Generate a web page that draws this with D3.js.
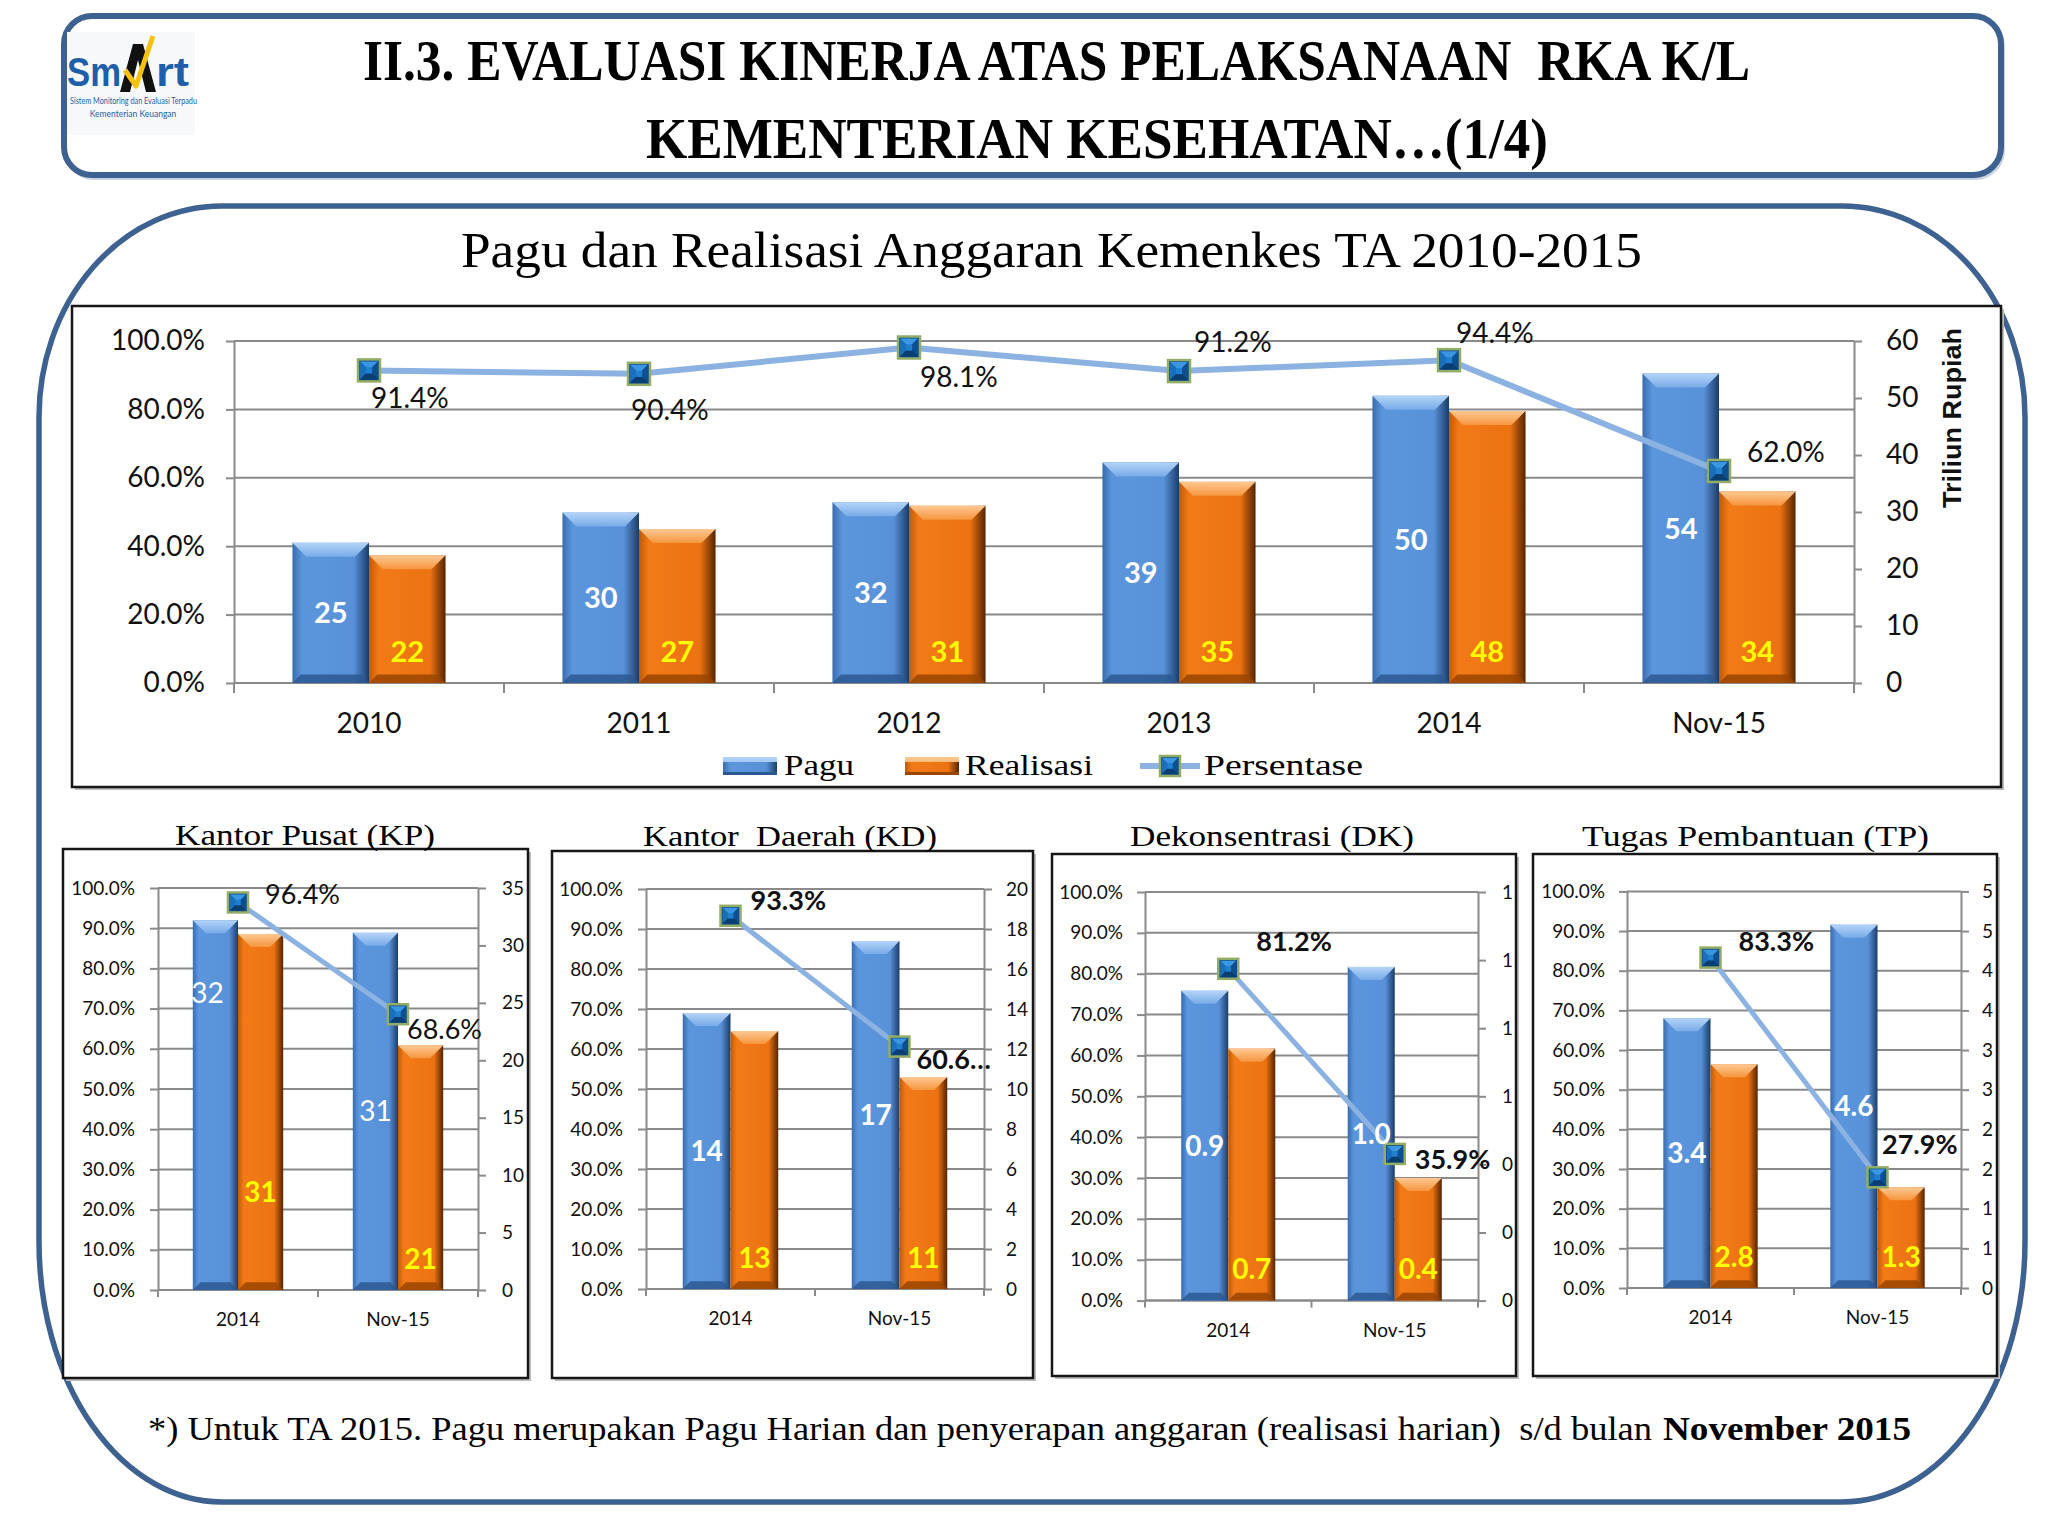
<!DOCTYPE html>
<html><head><meta charset="utf-8">
<script src="https://cdn.jsdelivr.net/npm/d3@7"></script>
<style>body{margin:0;background:#fff}svg{display:block}</style>
</head><body>
<svg id="c" width="2048" height="1536"></svg>
<script>
// ---------------- DATA ----------------
const topCategories = ["2010", "2011", "2012", "2013", "2014", "Nov-15"];
const topPagu = [24.6, 29.9, 31.7, 38.7, 50.4, 54.3];
const topRealisasi = [22.4, 27.0, 31.1, 35.3, 47.7, 33.6];
const topPersentase = [91.4, 90.4, 98.1, 91.2, 94.4, 62.0];
const topPctTicks = [0, 20, 40, 60, 80, 100];
const topValueTicks = [0, 10, 20, 30, 40, 50, 60];

const subCategories = ["2014", "Nov-15"];
const subPctTicks = [0, 10, 20, 30, 40, 50, 60, 70, 80, 90, 100];

const kpPagu = [32.2, 31.1];
const kpRealisasi = [31.0, 21.3];
const kpPersentase = [96.4, 68.6];
const kpValueTicks = [0, 5, 10, 15, 20, 25, 30, 35];

const kdPagu = [13.8, 17.4];
const kdRealisasi = [12.9, 10.6];
const kdPersentase = [93.3, 60.6];
const kdValueTicks = [0, 2, 4, 6, 8, 10, 12, 14, 16, 18, 20];

const dkPagu = [0.91, 0.98];
const dkRealisasi = [0.74, 0.36];
const dkPersentase = [81.2, 35.9];
const dkValueTicks = [0, 0.2, 0.4, 0.6, 0.8, 1.0, 1.2];

const tpPagu = [3.40, 4.58];
const tpRealisasi = [2.82, 1.27];
const tpPersentase = [83.3, 27.9];
const tpValueTicks = [0, 0.5, 1, 1.5, 2, 2.5, 3, 3.5, 4, 4.5, 5];

const seriesNames = ["Pagu", "Realisasi", "Persentase"];
const subTitles = ["Kantor Pusat (KP)", "Kantor  Daerah (KD)", "Dekonsentrasi (DK)", "Tugas Pembantuan (TP)"];

// ---------------- STYLE ----------------
const SANS = "Lato, 'Noto Sans', sans-serif";
const SERIF = "'Liberation Serif', 'DejaVu Serif', serif";
const GRID = "#8a8a8a";
const NAVY = "#3d6190";
const LINE = "#8cb2e2";

const svg = d3.select("#c");
const defs = svg.append("defs");
function lin(id, x1, y1, x2, y2, stops) {
  const g = defs.append("linearGradient").attr("id", id)
    .attr("x1", x1).attr("y1", y1).attr("x2", x2).attr("y2", y2);
  stops.forEach(([o, c]) => g.append("stop").attr("offset", o).attr("stop-color", c));
}
lin("blueBody", 0, 0, 1, 0, [[0, "#3a6cae"], [0.13, "#5b96dd"], [0.8, "#5891d8"], [1, "#1b3d6b"]]);
lin("blueTop", 0, 0, 0, 1, [[0, "#b4d4f8"], [1, "#78abe8"]]);
lin("orangeBody", 0, 0, 1, 0, [[0, "#bf5a06"], [0.13, "#f27b18"], [0.8, "#ec7212"], [1, "#552500"]]);
lin("orangeTop", 0, 0, 0, 1, [[0, "#ffc892"], [1, "#f5963e"]]);
const bottomCol = { blue: "#2c5892", orange: "#9a4500" };

svg.append("rect").attr("width", 2048).attr("height", 1536).attr("fill", "#fff");

// ---------------- FRAME ----------------
svg.append("path")
  .attr("d", "M 222,206 H 1842 A 183 211 0 0 1 2025 417 V 1242 A 183 260 0 0 1 1842 1502 H 222 A 183 260 0 0 1 39 1242 V 417 A 183 211 0 0 1 222 206 Z")
  .attr("fill", "#fff").attr("stroke", NAVY).attr("stroke-width", 5.5);

svg.append("rect").attr("x", 66).attr("y", 19).attr("width", 1937).attr("height", 159).attr("rx", 28)
  .attr("fill", "none").attr("stroke", "#c9d3e0").attr("stroke-width", 4);
svg.append("rect").attr("x", 64).attr("y", 16).attr("width", 1937).attr("height", 159).attr("rx", 28)
  .attr("fill", "#fff").attr("stroke", NAVY).attr("stroke-width", 6);

// logo
const logo = svg.append("g");
logo.append("rect").attr("x", 67).attr("y", 32).attr("width", 128).attr("height", 103).attr("fill", "#f7f8fa");
logo.append("text").attr("x", 67).attr("y", 86).attr("font-family", "'Liberation Sans', sans-serif")
  .attr("font-weight", "bold").attr("font-size", 40).attr("fill", "#1f5ea8")
  .attr("textLength", 54).attr("lengthAdjust", "spacingAndGlyphs").text("Sm");
logo.append("path").attr("d", "M120,92 L133,44 L143,44 L156,92 L146,92 L138,60 L130,92 Z").attr("fill", "#111");
logo.append("polyline").attr("points", "125,70 136,86 153,36").attr("fill", "none")
  .attr("stroke", "#f4c20d").attr("stroke-width", 5).attr("stroke-linejoin", "round");
logo.append("text").attr("x", 156).attr("y", 86).attr("font-family", "'Liberation Sans', sans-serif")
  .attr("font-weight", "bold").attr("font-size", 40).attr("fill", "#1f5ea8")
  .attr("textLength", 33).attr("lengthAdjust", "spacingAndGlyphs").text("rt");
logo.append("text").attr("x", 70).attr("y", 104).attr("font-family", SANS).attr("font-size", 8.5)
  .attr("fill", "#1f5ea8").attr("textLength", 127).attr("lengthAdjust", "spacingAndGlyphs")
  .text("Sistem Monitoring dan Evaluasi Terpadu");
logo.append("text").attr("x", 133).attr("y", 117).attr("text-anchor", "middle").attr("font-family", SANS)
  .attr("font-size", 8.5).attr("fill", "#1f5ea8").text("Kementerian Keuangan");

function fitText(g, str, x, y, width, size, opts = {}) {
  return g.append("text").attr("x", x).attr("y", y)
    .attr("font-family", opts.family || SERIF).attr("font-size", size)
    .attr("font-weight", opts.weight || "normal").attr("fill", opts.fill || "#000")
    .style("white-space", "pre")
    .attr("textLength", width).attr("lengthAdjust", "spacingAndGlyphs").text(str);
}
fitText(svg, "II.3. EVALUASI KINERJA ATAS PELAKSANAAN  RKA K/L", 363, 80, 1387, 56, { weight: "bold" });
fitText(svg, "KEMENTERIAN KESEHATAN…(1/4)", 646, 158, 902, 56, { weight: "bold" });
fitText(svg, "Pagu dan Realisasi Anggaran Kemenkes TA 2010-2015", 461, 267, 1181, 50);
fitText(svg, "*) Untuk TA 2015. Pagu merupakan Pagu Harian dan penyerapan anggaran (realisasi harian)  s/d bulan", 148, 1440, 1504, 33);
fitText(svg, "November 2015", 1663, 1440, 248, 33, { weight: "bold" });

// ---------------- HELPERS ----------------
function bar(g, x0, y0, w, h, c, bv) {
  const grp = g.append("g");
  grp.append("rect").attr("x", x0).attr("y", y0).attr("width", w).attr("height", h).attr("fill", `url(#${c}Body)`);
  const b = Math.min(bv, w / 3, h / 2);
  grp.append("polygon").attr("points", [[x0, y0], [x0 + w, y0], [x0 + w - b, y0 + b], [x0 + b, y0 + b]].join(" "))
    .attr("fill", `url(#${c}Top)`);
  const bb = b * 0.6;
  grp.append("polygon").attr("points", [[x0, y0 + h], [x0 + w, y0 + h], [x0 + w - bb, y0 + h - bb], [x0 + bb, y0 + h - bb]].join(" "))
    .attr("fill", bottomCol[c]).attr("opacity", 0.85);
}
function marker(g, cx, cy, s) {
  const h = s / 2, k = h - 2;
  const m = g.append("g").attr("transform", `translate(${cx},${cy})`);
  m.append("rect").attr("x", -h).attr("y", -h).attr("width", s).attr("height", s)
    .attr("fill", "#0c4d8c").attr("stroke", "#93ad66").attr("stroke-width", 2.5);
  const tris = [
    [[[-k, -k], [k, -k], [0, 0]], "#3b97e2"],
    [[[-k, -k], [-k, k], [0, 0]], "#1a6fbd"],
    [[[k, -k], [k, k], [0, 0]], "#0d4f91"],
    [[[-k, k], [k, k], [0, 0]], "#0a3d70"]];
  tris.forEach(([p, c]) => m.append("polygon").attr("points", p.join(" ")).attr("fill", c));
  m.append("rect").attr("x", -k * 0.35).attr("y", -k * 0.35).attr("width", k * 0.7).attr("height", k * 0.7).attr("fill", "#1f80d0");
}
function styleAxis(sel, fs) {
  sel.attr("font-family", SANS).attr("font-size", fs);
  sel.selectAll("text").attr("fill", "#111");
  sel.selectAll("line").attr("stroke", GRID).attr("stroke-width", 2);
  sel.select(".domain").attr("stroke", GRID).attr("stroke-width", 2);
}

function drawChart(o) {
  const g = svg.append("g");
  // box
  g.append("rect").attr("x", o.box[0] + 3).attr("y", o.box[1] + 3).attr("width", o.box[2] - o.box[0]).attr("height", o.box[3] - o.box[1]).attr("fill", "#bdbdbd");
  g.append("rect").attr("x", o.box[0]).attr("y", o.box[1]).attr("width", o.box[2] - o.box[0]).attr("height", o.box[3] - o.box[1])
    .attr("fill", "#fff").attr("stroke", "#161616").attr("stroke-width", 2.5);
  if (o.title) fitText(g, o.title, o.title_x, o.title_y, o.title_w, 30);

  const { l, r, t, b } = o.plot;
  const x = d3.scaleBand().domain(o.cats).range([l, r]);
  const bw = x.bandwidth();
  const xs = d3.scaleBand().domain(["Pagu", "Realisasi"]).range([bw * (1 - o.group) / 2, bw * (1 + o.group) / 2]);
  const yL = d3.scaleLinear().domain([0, 100]).range([b, t]);
  const yR = d3.scaleLinear().domain([0, d3.max(o.valueTicks)]).range([b, t]);

  g.append("g").selectAll("line").data(o.pctTicks).join("line")
    .attr("x1", l).attr("x2", r).attr("y1", d => yL(d)).attr("y2", d => yL(d))
    .attr("stroke", GRID).attr("stroke-width", 2);

  const aL = g.append("g").attr("transform", `translate(${l},0)`)
    .call(d3.axisLeft(yL).tickValues(o.pctTicks).tickFormat(d => d.toFixed(1) + "%")
      .tickSize(8).tickSizeOuter(0).tickPadding(o.leftPad));
  styleAxis(aL, o.tickFs);
  const aR = g.append("g").attr("transform", `translate(${r},0)`)
    .call(d3.axisRight(yR).tickValues(o.valueTicks).tickFormat(o.valueFmt)
      .tickSize(8).tickSizeOuter(0).tickPadding(o.rightPad));
  styleAxis(aR, o.tickFs);

  // bottom axis: boundary ticks and category labels
  g.append("line").attr("x1", l).attr("x2", r).attr("y1", b).attr("y2", b).attr("stroke", GRID).attr("stroke-width", 2);
  g.append("g").selectAll("line").data(d3.range(o.cats.length + 1)).join("line")
    .attr("x1", i => l + i * bw).attr("x2", i => l + i * bw).attr("y1", b).attr("y2", b + o.xTick)
    .attr("stroke", GRID).attr("stroke-width", 2);
  const aB = g.append("g").attr("transform", `translate(0,${b})`)
    .call(d3.axisBottom(x).tickSize(0).tickPadding(o.bottomPad));
  aB.select(".domain").remove();
  styleAxis(aB, o.tickFs);

  // bars
  const series = [["Pagu", o.pagu, "blue"], ["Realisasi", o.real, "orange"]];
  series.forEach(([name, vals, col]) => {
    vals.forEach((v, i) => {
      const x0 = x(o.cats[i]) + xs(name);
      bar(g, x0, yR(v), xs.bandwidth(), b - yR(v), col, o.bevel);
    });
  });

  // line + markers
  const cx = i => x(o.cats[i]) + bw / 2;
  g.append("path").datum(o.pct)
    .attr("d", d3.line().x((d, i) => cx(i)).y(d => yL(d)))
    .attr("fill", "none").attr("stroke", LINE).attr("stroke-width", o.lineW).attr("stroke-linejoin", "round");
  o.pct.forEach((p, i) => marker(g, cx(i), yL(p), o.markerS));

  // bar value labels
  o.pagu.forEach((v, i) => {
    const lay = (o.paguLabelAt && o.paguLabelAt[i]) || null;
    const xc = x(o.cats[i]) + xs("Pagu") + xs.bandwidth() / 2 + (lay ? lay[1] : 0);
    const yc = lay ? yR(lay[0]) : yR(v / 2);
    g.append("text").attr("x", xc).attr("y", yc).attr("dy", "0.36em").attr("text-anchor", "middle")
      .attr("font-family", SANS).attr("font-size", o.barFs).attr("font-weight", o.paguWeight)
      .attr("fill", "#fff").text(o.valFmt(v));
  });
  o.real.forEach((v, i) => {
    const lay = (o.realLabelAt && o.realLabelAt[i]) || null;
    const xc = x(o.cats[i]) + xs("Realisasi") + xs.bandwidth() / 2;
    const yc = lay ? yR(lay) : b - 31.5;
    g.append("text").attr("x", xc).attr("y", yc).attr("dy", "0.36em").attr("text-anchor", "middle")
      .attr("font-family", SANS).attr("font-size", o.barFs).attr("font-weight", "bold")
      .attr("fill", "#ffff00").text(o.valFmt(v));
  });
  // percentage labels
  o.pct.forEach((p, i) => {
    const [dx, dy] = o.pctOffsets[i];
    const txt = (o.pctText && o.pctText[i]) || (p.toFixed(1) + "%");
    g.append("text").attr("x", cx(i) + dx).attr("y", yL(p) + dy)
      .attr("font-family", SANS).attr("font-size", o.pctFs).attr("font-weight", o.pctWeight)
      .attr("fill", "#111").text(txt);
  });
  return g;
}

// ---------------- TOP CHART ----------------
const topG = drawChart({
  box: [72, 306, 2001, 787],
  plot: { l: 234, r: 1854, t: 341, b: 683 },
  cats: topCategories, pagu: topPagu, real: topRealisasi, pct: topPersentase,
  pctTicks: topPctTicks, valueTicks: topValueTicks, valueFmt: d3.format(".0f"), valFmt: d3.format(".0f"),
  group: 0.567, tickFs: 28, leftPad: 21, rightPad: 24, bottomPad: 30, xTick: 10,
  bevel: 14, lineW: 6, markerS: 22, barFs: 29, paguWeight: "bold", pctFs: 28, pctWeight: "normal",
  pctOffsets: [[2, 38], [-8, 46], [11, 40], [15, -19], [7, -17], [28, -9]]
});
topG.append("text").attr("transform", "translate(1961,418) rotate(-90)").attr("text-anchor", "middle")
  .attr("font-family", "'Liberation Sans', sans-serif").attr("font-weight", "bold").attr("font-size", 26)
  .attr("fill", "#111").attr("textLength", 180).attr("lengthAdjust", "spacingAndGlyphs").text("Triliun Rupiah");

// legend
const leg = svg.append("g");
const legItems = [
  { name: seriesNames[0], type: "bar", col: "blue", sx: 723, tx: 784, tw: 70 },
  { name: seriesNames[1], type: "bar", col: "orange", sx: 905, tx: 965, tw: 128 },
  { name: seriesNames[2], type: "line", sx: 1140, tx: 1204, tw: 159 }];
legItems.forEach(it => {
  if (it.type === "bar") {
    leg.append("rect").attr("x", it.sx).attr("y", 757).attr("width", 54).attr("height", 18).attr("fill", `url(#${it.col}Top)`);
    leg.append("rect").attr("x", it.sx).attr("y", 762).attr("width", 54).attr("height", 13).attr("fill", `url(#${it.col}Body)`);
    leg.append("rect").attr("x", it.sx).attr("y", 772).attr("width", 54).attr("height", 3).attr("fill", bottomCol[it.col]);
  } else {
    leg.append("line").attr("x1", it.sx).attr("x2", it.sx + 60).attr("y1", 766).attr("y2", 766)
      .attr("stroke", LINE).attr("stroke-width", 6);
    marker(leg, it.sx + 30, 766, 20);
  }
  fitText(leg, it.name, it.tx, 775, it.tw, 30);
});

// ---------------- SMALL CHARTS ----------------
const small = {
  cats: subCategories, pctTicks: subPctTicks, group: 0.565, tickFs: 19, bottomPad: 22.5, xTick: 7,
  bevel: 13, lineW: 5, markerS: 20, barFs: 28, pctFs: 27
};
drawChart(Object.assign({}, small, {
  box: [63, 849, 528, 1378], plot: { l: 158, r: 478, t: 888, b: 1290 },
  title: subTitles[0], title_x: 175, title_y: 845, title_w: 260,
  pagu: kpPagu, real: kpRealisasi, pct: kpPersentase, valueTicks: kpValueTicks,
  valueFmt: d3.format(".0f"), valFmt: d3.format(".0f"), leftPad: 15, rightPad: 16,
  paguWeight: "normal", pctWeight: "normal",
  paguLabelAt: [[25.9, -8], null], realLabelAt: [8.5, null],
  pctOffsets: [[27, 2], [9, 25]]
}));
drawChart(Object.assign({}, small, {
  box: [552, 851, 1033, 1378], plot: { l: 646, r: 984, t: 889, b: 1289 },
  title: subTitles[1], title_x: 643, title_y: 846, title_w: 294,
  pagu: kdPagu, real: kdRealisasi, pct: kdPersentase, valueTicks: kdValueTicks,
  valueFmt: d3.format(".0f"), valFmt: d3.format(".0f"), leftPad: 15, rightPad: 14,
  paguWeight: "bold", pctWeight: "bold",
  pctText: [null, "60.6…"], pctOffsets: [[20, -6], [17, 22]]
}));
drawChart(Object.assign({}, small, {
  box: [1052, 854, 1516, 1376], plot: { l: 1145, r: 1478, t: 892, b: 1300.6 },
  title: subTitles[2], title_x: 1130, title_y: 846, title_w: 284,
  pagu: dkPagu, real: dkRealisasi, pct: dkPersentase, valueTicks: dkValueTicks,
  valueFmt: d => Math.round(d), valFmt: d3.format(".1f"), leftPad: 14, rightPad: 16,
  paguWeight: "bold", pctWeight: "bold",
  pctOffsets: [[28, -18], [20, 15]]
}));
drawChart(Object.assign({}, small, {
  box: [1533, 854, 1997, 1376], plot: { l: 1627, r: 1961, t: 891.4, b: 1288 },
  title: subTitles[3], title_x: 1582, title_y: 846, title_w: 347,
  pagu: tpPagu, real: tpRealisasi, pct: tpPersentase, valueTicks: tpValueTicks,
  valueFmt: d => Math.round(d), valFmt: d3.format(".1f"), leftPad: 14, rightPad: 13,
  paguWeight: "bold", pctWeight: "bold",
  pctOffsets: [[28, -7], [4.5, -23]]
}));
</script>
</body></html>
